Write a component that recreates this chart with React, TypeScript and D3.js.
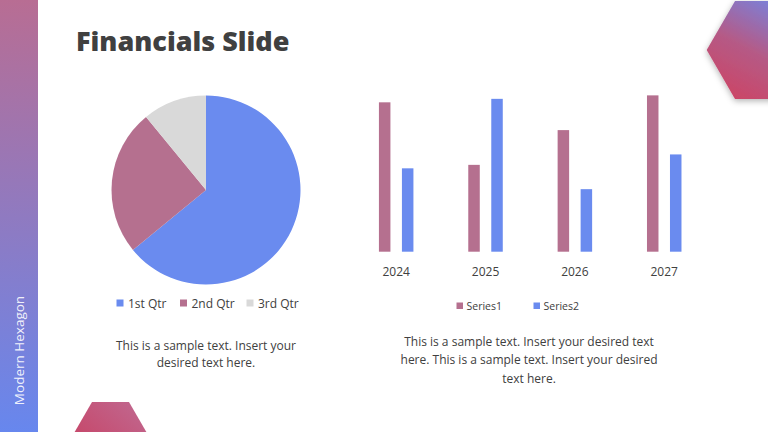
import React from "react";
import * as d3 from "d3";

const pieLabels = ["1st Qtr", "2nd Qtr", "3rd Qtr"];
const pieValues = [8.2, 3.2, 1.4];
const pieColors = ["#6a8bef", "#b5708f", "#d9d9d9"];

const years = ["2024", "2025", "2026", "2027"];
const series1 = [4.3, 2.5, 3.5, 4.5];
const series2 = [2.4, 4.4, 1.8, 2.8];
const seriesNames = ["Series1", "Series2"];
const seriesColors = ["#b5708f", "#6a8bef"];

const FONT = "'Open Sans', 'Noto Sans', sans-serif";
const TEXT = "#404040";

function hexPoints(cx: number, cy: number, s: number) {
  const pts: [number, number][] = [];
  for (let i = 0; i < 6; i++) {
    const a = (Math.PI / 3) * i;
    pts.push([cx + s * Math.cos(a), cy + s * Math.sin(a)]);
  }
  return pts.map((p) => p.join(",")).join(" ");
}

export default function App() {
  const W = 768, H = 432;
  const pcx = 206, pcy = 190, pr = 94.5;
  const pie = d3.pie<number>().sort(null).value((d) => d)(pieValues);
  const arc = d3.arc<d3.PieArcDatum<number>>().innerRadius(0).outerRadius(pr);

  const x0 = d3.scaleBand<string>().domain(years).range([351.5, 708.9]).paddingInner(0).paddingOuter(0);
  const y = d3.scaleLinear().domain([0, 5]).range([251.7, 78]);
  const bw = 11.5;
  const offsets = [-bw * 1.5, bw * 0.5];

  const pieLegendX = [116.5, 180, 246.5];
  const barLegendX = [456.5, 533.5];

  return (
    <svg width={W} height={H} style={{ position: "absolute", left: 0, top: 0 }}>
      <defs>
        <linearGradient id="side" x1="0" y1="0" x2="0" y2="1">
          <stop offset="0" stopColor="#b86d93" />
          <stop offset="1" stopColor="#6787ee" />
        </linearGradient>
        <linearGradient id="hexTR" x1="0.8" y1="0" x2="0.2" y2="1">
          <stop offset="0" stopColor="#6f88ea" />
          <stop offset="0.55" stopColor="#b55a86" />
          <stop offset="1" stopColor="#cc4565" />
        </linearGradient>
        <linearGradient id="hexBL" x1="0" y1="1" x2="1" y2="0">
          <stop offset="0" stopColor="#c83d5e" />
          <stop offset="1" stopColor="#c06a92" />
        </linearGradient>
        <filter id="shadow" x="-30%" y="-30%" width="160%" height="160%">
          <feDropShadow dx="0" dy="2" stdDeviation="3" floodColor="#000" floodOpacity="0.3" />
        </filter>
      </defs>
      <rect width={W} height={H} fill="#ffffff" />
      <rect x={0} y={0} width={38} height={H} fill="url(#side)" />
      <text
        transform="translate(24,350.5) rotate(-90)"
        textAnchor="middle"
        fontFamily={FONT}
        fontSize={13.5}
        fill="#ffffff"
        fillOpacity={0.9}
      >
        Modern Hexagon
      </text>
      <polygon points={hexPoints(763.3, 50, 56.6)} fill="url(#hexTR)" filter="url(#shadow)" />
      <polygon points={hexPoints(110.5, 434, 37)} fill="url(#hexBL)" />

      <text x={76} y={51} fontFamily={FONT} fontWeight={800} fontSize={27} fill={TEXT}>
        Financials Slide
      </text>

      <g transform={`translate(${pcx},${pcy})`}>
        {pie.map((d, i) => (
          <path key={i} d={arc(d) || ""} fill={pieColors[i]} />
        ))}
      </g>
      {pieLabels.map((l, i) => (
        <g key={l}>
          <rect x={pieLegendX[i]} y={299.5} width={7} height={7} fill={pieColors[i]} />
          <text x={pieLegendX[i] + 11.5} y={307.5} fontFamily={FONT} fontSize={12} fill={TEXT}>
            {l}
          </text>
        </g>
      ))}
      <text textAnchor="middle" fontFamily={FONT} fontSize={12} fill={TEXT}>
        <tspan x={206} y={349.5}>This is a sample text. Insert your</tspan>
        <tspan x={206} y={367}>desired text here.</tspan>
      </text>

      {years.map((yr, i) => {
        const cx = (x0(yr) as number) + x0.bandwidth() / 2;
        return (
          <g key={yr}>
            {[series1[i], series2[i]].map((v, j) => (
              <rect
                key={j}
                x={cx + offsets[j]}
                y={y(v)}
                width={bw}
                height={y(0) - y(v)}
                fill={seriesColors[j]}
              />
            ))}
            <text x={cx} y={276} textAnchor="middle" fontFamily={FONT} fontSize={12} fill={TEXT}>
              {yr}
            </text>
          </g>
        );
      })}
      {seriesNames.map((s, i) => (
        <g key={s}>
          <rect x={barLegendX[i]} y={302.5} width={6.5} height={6.5} fill={seriesColors[i]} />
          <text x={barLegendX[i] + 10} y={310} fontFamily={FONT} fontSize={10.5} fill={TEXT}>
            {s}
          </text>
        </g>
      ))}
      <text textAnchor="middle" fontFamily={FONT} fontSize={12} fill={TEXT}>
        <tspan x={529} y={345.5}>This is a sample text. Insert your desired text</tspan>
        <tspan x={529} y={364}>here. This is a sample text. Insert your desired</tspan>
        <tspan x={529} y={382.5}>text here.</tspan>
      </text>
    </svg>
  );
}
